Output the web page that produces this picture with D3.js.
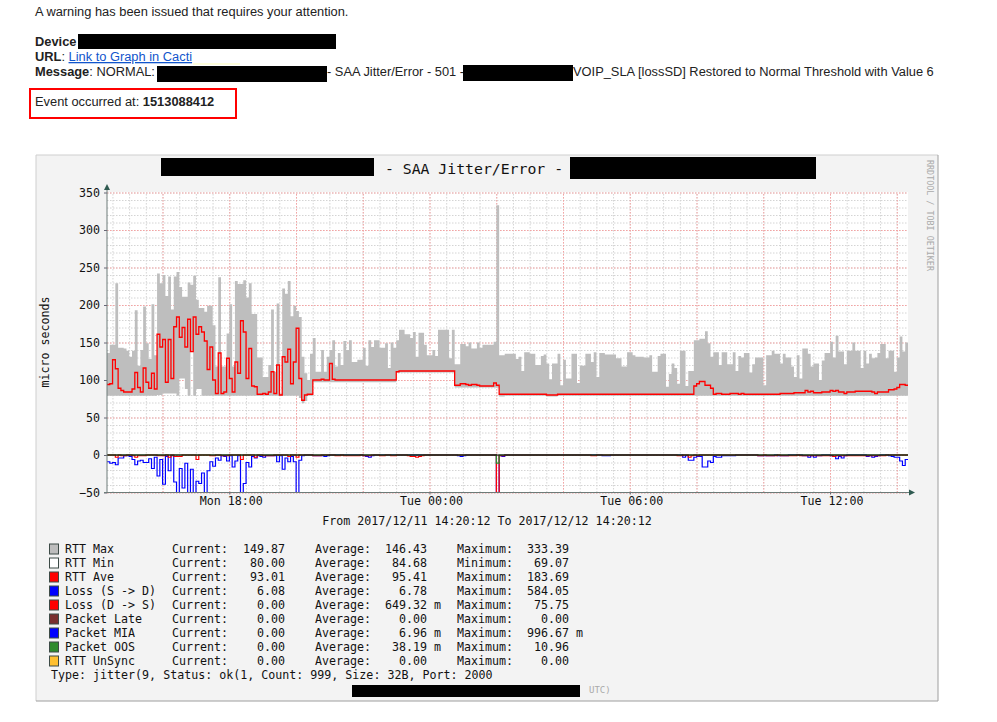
<!DOCTYPE html>
<html>
<head>
<meta charset="utf-8">
<script src="https://cdn.jsdelivr.net/npm/d3@7"></script>
<style>
body { margin: 0; background: #fff; }
svg { display: block; }
.mail { font-family: "Liberation Sans", Arial, sans-serif; font-size: 12.85px; fill: #222; }
.mono { font-family: "DejaVu Sans Mono", monospace; font-size: 11.65px; fill: #111; }
.axis path { display: none; }
</style>
</head>
<body>
<script>
// samples are 5 minutes apart
let rttMax = [
  136,147,147,229,143,143,142,139,131,139,
  193,119,140,198,149,128,201,133,242,229,
  240,212,238,194,238,244,224,211,211,230,
  227,239,207,196,196,191,199,199,173,118,
  237,118,118,162,201,118,232,228,228,233,
  210,229,188,188,130,130,104,104,120,194,
  111,202,82,222,215,232,185,199,192,184,
  131,109,100,135,156,111,111,140,111,131,
  140,153,118,136,120,152,140,153,124,124,
  127,127,143,119,153,144,153,153,143,143,
  149,116,150,143,153,167,167,161,161,156,
  164,131,163,163,147,133,133,140,132,167,
  167,167,167,129,167,121,121,148,148,145,
  150,142,142,150,143,147,147,147,147,151,
  333,133,133,135,135,135,135,128,131,112,
  137,137,135,135,120,120,132,134,122,101,
  122,122,135,93,127,102,102,135,135,96,
  119,119,135,135,124,137,104,136,136,134,
  134,134,134,129,129,118,118,137,137,133,
  131,131,131,130,130,133,111,111,132,135,
  135,91,108,122,116,95,139,139,92,112,
  112,153,153,155,155,165,149,131,137,137,
  120,137,137,121,121,137,112,132,130,136,
  136,110,121,130,130,130,93,133,133,139,
  135,135,122,135,130,130,118,104,133,102,
  142,142,135,118,122,122,100,126,136,136,
  151,130,159,138,138,121,139,139,150,139,
  139,116,139,122,135,129,130,136,148,148,
  129,139,139,111,130,158,138,150
];
let rttMin = [
  79,79,79,79,79,79,79,79,79,79,
  79,79,79,79,79,79,79,79,80,80,
  82,82,82,82,82,79,102,102,88,79,
  140,79,88,88,79,79,79,79,79,79,
  79,79,79,79,79,79,79,79,79,79,
  79,79,79,79,79,79,79,79,79,79,
  79,79,79,79,79,79,79,79,79,76,
  69,72,79,79,97,97,97,97,97,97,
  97,97,97,97,97,97,97,97,97,97,
  97,97,97,97,97,97,97,97,97,97,
  97,97,97,97,110,110,110,110,110,110,
  110,110,110,110,110,110,110,110,110,110,
  110,110,110,110,110,90,90,90,90,90,
  90,90,90,90,90,90,90,90,90,90,
  90,78,78,79,79,79,79,79,79,79,
  79,79,79,79,79,79,79,79,78,78,
  78,78,79,79,79,79,79,79,79,79,
  79,79,79,79,79,79,79,79,79,79,
  79,79,79,79,79,79,79,79,79,79,
  79,79,79,79,79,79,79,79,79,79,
  79,79,79,79,79,79,79,79,79,79,
  79,79,79,79,79,79,79,79,79,79,
  79,79,79,79,79,79,79,79,79,79,
  79,79,79,79,79,79,79,79,79,79,
  79,79,79,79,79,79,79,79,79,79,
  79,79,79,79,79,79,79,79,79,79,
  79,79,79,79,79,79,79,79,79,79,
  79,79,79,79,79,79,79,79,79,79,
  79,79,79,79,79,79,79,79
];
let rttAve = [
  94,95,127,115,89,86,84,84,84,88,
  110,90,84,116,97,89,109,88,161,144,
  154,97,154,102,171,184,157,170,144,181,
  138,184,161,171,164,152,114,144,100,82,
  136,82,84,129,102,84,124,109,179,164,
  102,142,92,91,81,81,82,81,84,111,
  82,120,80,131,124,141,95,124,169,102,
  73,80,81,81,100,100,100,101,100,100,
  122,101,100,100,100,100,100,100,100,100,
  100,100,100,100,100,100,100,100,100,100,
  100,100,100,100,111,112,112,112,112,112,
  112,112,112,112,112,112,112,112,112,112,
  112,112,112,112,112,93,93,95,95,94,
  93,94,94,93,92,92,92,92,92,96,
  93,81,81,81,81,81,81,81,81,81,
  81,81,81,81,81,81,81,81,80,80,
  80,80,81,81,81,81,81,81,81,81,
  81,81,81,81,81,81,81,81,81,81,
  81,81,81,81,81,81,81,81,81,81,
  81,81,81,81,81,81,81,81,81,81,
  81,81,81,81,81,81,81,81,81,81,
  81,92,95,98,98,93,93,89,81,82,
  82,81,81,81,82,82,82,81,82,81,
  81,81,81,81,81,81,81,81,81,81,
  81,81,82,82,82,82,82,83,83,83,
  83,86,84,85,83,83,83,84,84,84,
  86,85,86,84,84,82,84,84,84,85,
  85,85,85,85,85,84,82,84,84,84,
  84,87,87,88,90,94,94,93
];
let lossSD = [
  9,11,10,13,4,4,1,1,2,6,
  13,8,7,10,10,5,18,3,28,6,
  39,2,21,1,36,60,18,44,11,60,
  19,60,35,38,24,60,21,9,15,4,
  7,1,2,8,1,16,8,1,80,38,
  10,16,2,4,1,2,3,1,1,1,
  1,9,1,19,4,9,2,9,80,7,
  1,0,0,0,1,1,1,1,2,1,
  0,0,0,0,0,0,0,0,0,0,
  0,0,1,2,3,1,0,0,0,0,
  0,0,0,0,0,0,0,0,0,0,
  0,0,0,0,0,0,0,0,0,0,
  0,0,0,0,0,0,1,2,1,0,
  0,0,0,0,0,0,0,0,0,0,
  584,1,2,0,0,0,0,0,0,0,
  0,0,0,0,0,0,0,0,0,0,
  0,0,0,0,0,0,0,0,0,0,
  0,0,0,0,0,0,0,0,1,1,
  1,0,0,0,0,0,0,0,0,0,
  0,0,0,0,0,0,0,0,0,0,
  0,0,0,0,0,0,0,3,1,7,
  7,3,2,2,16,16,8,10,2,3,
  3,1,1,1,1,1,0,0,0,0,
  0,0,0,0,1,1,1,1,1,1,
  0,1,1,1,1,0,0,0,0,0,
  1,1,3,1,3,1,1,0,0,0,
  1,2,5,2,4,1,0,0,0,0,
  0,0,0,2,1,3,2,1,0,0,
  0,1,2,3,3,8,14,6
];
let lossDS = [
  0,0,0,3,0,1,1,0,0,1,
  3,1,1,1,0,0,0,0,1,1,
  1,0,3,0,2,2,2,0,0,0,
  0,0,6,0,0,0,0,1,1,0,
  0,1,1,1,0,0,0,0,6,0,
  0,0,0,3,0,0,1,1,1,1,
  0,0,0,0,0,2,0,0,3,0,
  0,0,0,0,1,1,1,0,0,0,
  0,0,1,1,0,1,1,1,1,1,
  1,0,1,1,1,0,0,0,1,1,
  0,0,1,1,0,0,0,0,1,2,
  2,3,2,1,0,0,0,0,0,0,
  0,0,0,0,0,0,0,0,0,0,
  0,0,0,0,0,0,0,0,0,0,
  75.75,1,1,0,0,0,0,0,0,0,
  0,0,0,0,0,0,0,0,0,0,
  0,0,0,0,0,0,0,0,0,0,
  0,0,0,0,1,1,0,0,0,0,
  0,0,0,0,0,0,0,0,0,0,
  0,0,0,0,0,0,0,0,0,0,
  0,0,0,0,0,1,1,0,0,3,
  1,0,1,0,0,0,0,0,0,0,
  0,0,0,0,0,0,0,0,0,0,
  0,0,0,0,1,1,0,1,1,1,
  1,0,1,1,1,1,1,1,0,1,
  1,1,1,1,1,1,1,1,1,1,
  1,2,1,1,1,1,1,1,1,1,
  1,1,1,1,1,1,1,1,1,1,
  0,0,0,0,0,0,0,0
];
let packetOOS = rttMax.map((d, i) => i == 140 ? 10.96 : 0);

let yTicks = [-50, 0, 50, 100, 150, 200, 250, 300, 350];
let yMinorTicks = d3.range(-50, 351, 10);
let legendNames = ["RTT Max", "RTT Min", "RTT Ave", "Loss (S -> D)", "Loss (D -> S)", "Packet Late", "Packet MIA", "Packet OOS", "RTT UnSync"];
let legendColors = ["#bdbdbd", "#ffffff", "#ff0000", "#0000ff", "#ff0000", "#7a2e2e", "#0000ff", "#2e8b2e", "#ffc030"];
let currentVals = ["149.87", "80.00", "93.01", "6.08", "0.00", "0.00", "0.00", "0.00", "0.00"];
let averageVals = ["146.43", "84.68", "95.41", "6.78", "649.32 m", "0.00", "6.96 m", "38.19 m", "0.00"];
let extremeLabels = ["Maximum:", "Minimum:", "Maximum:", "Maximum:", "Maximum:", "Maximum:", "Maximum:", "Maximum:", "Maximum:"];
let extremeVals = ["333.39", "69.07", "183.69", "584.05", "75.75", "0.00", "996.67 m", "10.96", "0.00"];

let svg = d3.select("body").append("svg").attr("width", 997).attr("height", 722);

// mail text above the graph
function mailLine(y, x0, parts) {
  let t = svg.append("text").attr("class", "mail").attr("x", x0).attr("y", y);
  parts.forEach(p => {
    let s = t.append("tspan").text(p.text);
    if (p.x) s.attr("x", p.x);
    if (p.bold) s.attr("font-weight", "bold");
    if (p.link) s.attr("fill", "#1155cc").attr("text-decoration", "underline");
  });
}
mailLine(16, 35, [{ text: "A warning has been issued that requires your attention." }]);
mailLine(46, 35, [{ text: "Device", bold: true }]);
svg.append("rect").attr("x", 193).attr("y", 63).attr("width", 47).attr("height", 2).attr("fill", "#ffffdc");
mailLine(61, 35, [{ text: "URL", bold: true }, { text: ": " }, { text: "Link to Graph in Cacti", link: true }]);
mailLine(76, 35, [{ text: "Message", bold: true }, { text: ": NORMAL:" }, { x: 327, text: "- SAA Jitter/Error - 501 -" }, { x: 573, text: "VOIP_SLA [lossSD] Restored to Normal Threshold with Value 6" }]);
mailLine(106, 35, [{ text: "Event occurred at: " }, { text: "1513088412", bold: true }]);
svg.append("rect").attr("x", 30).attr("y", 89).attr("width", 206).attr("height", 29)
  .attr("fill", "none").attr("stroke", "#ff0000").attr("stroke-width", 2);

// graph panel
svg.append("rect").attr("x", 36).attr("y", 155).attr("width", 902).attr("height", 546).attr("fill", "#f3f3f3");
svg.append("path").attr("d", "M36 701V155H938").attr("fill", "none").attr("stroke", "#cfcfcf");
svg.append("path").attr("d", "M36 701H938V155").attr("fill", "none").attr("stroke", "#9e9e9e");

let parseUtc = d3.utcParse("%Y-%m-%d %H:%M:%S");
let start = parseUtc("2017-12-11 14:20:12");
let end = parseUtc("2017-12-12 14:20:12");
let x = d3.scaleUtc().domain([start, end]).range([107, 908]);
let y = d3.scaleLinear().domain([-50, 350]).range([492.5, 192.5]);
let sampleTime = i => new Date(start.getTime() + i * 300000);

svg.append("rect").attr("x", 107).attr("y", 192).attr("width", 801).attr("height", 300.5).attr("fill", "#fff");

// grid, from the axes
let minorTimes = d3.utcMinute.every(30).range(start, end);
let majorTimes = d3.utcHour.every(2).range(start, end);
let labelTimes = d3.utcHour.every(6).range(start, end);

svg.append("g").attr("transform", "translate(107,0)")
  .call(d3.axisLeft(y).tickValues(yMinorTicks).tickSize(-801).tickFormat(""))
  .call(g => g.select(".domain").remove())
  .selectAll("line").attr("stroke", "#d4d4d4").attr("stroke-dasharray", "1.5 1.5");
svg.append("g").attr("transform", "translate(0,492.5)")
  .call(d3.axisBottom(x).tickValues(minorTimes).tickSize(-300).tickFormat(""))
  .call(g => g.select(".domain").remove())
  .selectAll("line").attr("stroke", "#d4d4d4").attr("stroke-dasharray", "1.5 1.5");
svg.append("g").attr("transform", "translate(107,0)")
  .call(d3.axisLeft(y).tickValues(yTicks).tickSize(-801).tickFormat(""))
  .call(g => g.select(".domain").remove())
  .selectAll("line").attr("stroke", "#f5a3a3").attr("stroke-dasharray", "1.5 1.5");
svg.append("g").attr("transform", "translate(0,492.5)")
  .call(d3.axisBottom(x).tickValues(majorTimes).tickSize(-300).tickFormat(""))
  .call(g => g.select(".domain").remove())
  .selectAll("line").attr("stroke", "#f5a3a3").attr("stroke-dasharray", "1.5 1.5");

// series
svg.append("clipPath").attr("id", "plot").append("rect")
  .attr("x", 107).attr("y", 192).attr("width", 801).attr("height", 300.5);
let plot = svg.append("g").attr("clip-path", "url(#plot)");

let withTail = arr => arr.concat(arr[arr.length - 1]);

plot.append("path")
  .attr("d", d3.area().curve(d3.curveStepAfter)
    .x((d, i) => x(sampleTime(i)))
    .y0((d, i) => y(withTail(rttMin)[i]))
    .y1(d => y(d))(withTail(rttMax)))
  .attr("fill", "#bebebe");

let line = d3.line().curve(d3.curveStepAfter).x((d, i) => x(sampleTime(i))).y(d => y(d));

plot.append("path").attr("d", line(withTail(rttAve))).attr("fill", "none").attr("stroke", "#ff0000").attr("stroke-width", 1.3);
plot.append("path").attr("d", line(withTail(lossSD).map(d => -d))).attr("fill", "none").attr("stroke", "#0000ff").attr("stroke-width", 1.2);
plot.append("path").attr("d", line(withTail(lossDS).map(d => -d))).attr("fill", "none").attr("stroke", "#ff0000").attr("stroke-width", 1.2);
plot.append("path").attr("d", line(withTail(packetOOS).map(d => -d))).attr("fill", "none").attr("stroke", "#2e8b2e").attr("stroke-width", 1.2);

svg.append("line").attr("x1", 107).attr("x2", 908).attr("y1", y(0)).attr("y2", y(0)).attr("stroke", "#000").attr("stroke-width", 1.2);

// axes
let yAxis = svg.append("g").attr("class", "axis mono").attr("transform", "translate(107,0)")
  .call(d3.axisLeft(y).tickValues(yTicks).tickSize(3).tickPadding(4));
yAxis.selectAll("line").attr("stroke", "#667");
yAxis.selectAll("text").attr("class", "mono");

let xAxis = svg.append("g").attr("class", "axis mono").attr("transform", "translate(0,492.5)")
  .call(d3.axisBottom(x).tickValues(labelTimes).tickSize(2).tickPadding(2)
    .tickFormat(d3.utcFormat("%a %H:%M")));
xAxis.selectAll("line").attr("stroke", "#667");
xAxis.selectAll("text").attr("class", "mono").attr("dx", 1.5);

svg.append("line").attr("x1", 107).attr("x2", 107).attr("y1", 188).attr("y2", 493).attr("stroke", "#6d7b78").attr("stroke-width", 1);
svg.append("line").attr("x1", 104).attr("x2", 912).attr("y1", 492.5).attr("y2", 492.5).attr("stroke", "#6d7b78").attr("stroke-width", 1);
svg.append("path").attr("d", "M107 184L110 190H104Z").attr("fill", "#2f5a50");
svg.append("path").attr("d", "M915 492.5L909 489.5V495.5Z").attr("fill", "#2f5a50");

// titles
svg.append("text").attr("class", "mono").attr("x", 474).attr("y", 174).attr("text-anchor", "middle")
  .style("font-size", "14.8px").text("- SAA Jitter/Error -");
svg.append("text").attr("class", "mono").attr("transform", "translate(49,342) rotate(-90)")
  .attr("text-anchor", "middle").text("micro seconds");
svg.append("text").attr("class", "mono").attr("x", 487).attr("y", 525).attr("text-anchor", "middle")
  .text("From 2017/12/11 14:20:12 To 2017/12/12 14:20:12");
svg.append("text").attr("transform", "translate(927,160) rotate(90)")
  .attr("font-family", "DejaVu Sans Mono").attr("font-size", "8.4px").attr("fill", "#aaa")
  .text("RRDTOOL / TOBI OETIKER");

// legend
let rowY = i => 553 + i * 14;
let legendRow = svg.append("g").selectAll("g").data(legendNames).join("g");
legendRow.append("rect").attr("x", 49.5).attr("y", (d, i) => rowY(i) - 9).attr("width", 9).attr("height", 10)
  .attr("fill", (d, i) => legendColors[i]).attr("stroke", "#3c4a46");
legendRow.append("text").attr("class", "mono").attr("x", 65).attr("y", (d, i) => rowY(i)).text(d => d);

function legendColumn(labels, labelX, vals, endX) {
  legendRow.append("text").attr("class", "mono").attr("x", labelX).attr("y", (d, i) => rowY(i))
    .text((d, i) => labels[i]);
  legendRow.append("text").attr("class", "mono").attr("x", endX).attr("y", (d, i) => rowY(i))
    .attr("text-anchor", "end").text((d, i) => vals[i].split(" ")[0]);
  legendRow.append("text").attr("class", "mono").attr("x", endX + 7).attr("y", (d, i) => rowY(i))
    .text((d, i) => vals[i].split(" ")[1] || "");
}
legendColumn(legendNames.map(() => "Current:"), 172, currentVals, 285);
legendColumn(legendNames.map(() => "Average:"), 315, averageVals, 427);
legendColumn(extremeLabels, 457, extremeVals, 569);

svg.append("text").attr("class", "mono").attr("x", 51).attr("y", 679)
  .text("Type: jitter(9, Status: ok(1, Count: 999, Size: 32B, Port: 2000");
svg.append("text").attr("x", 589).attr("y", 693).attr("font-family", "DejaVu Sans Mono")
  .attr("font-size", "9px").attr("fill", "#aaa").text("UTC)");

// blacked out parts of the screenshot
let redactions = [[78, 34, 258, 15], [157, 66, 170, 16], [463, 65, 110, 16], [161, 158, 213, 18], [570, 157, 246, 22], [352, 685, 228, 12]];
svg.append("g").selectAll("rect").data(redactions).join("rect")
  .attr("x", d => d[0]).attr("y", d => d[1]).attr("width", d => d[2]).attr("height", d => d[3]).attr("fill", "#000");
</script>
</body>
</html>
